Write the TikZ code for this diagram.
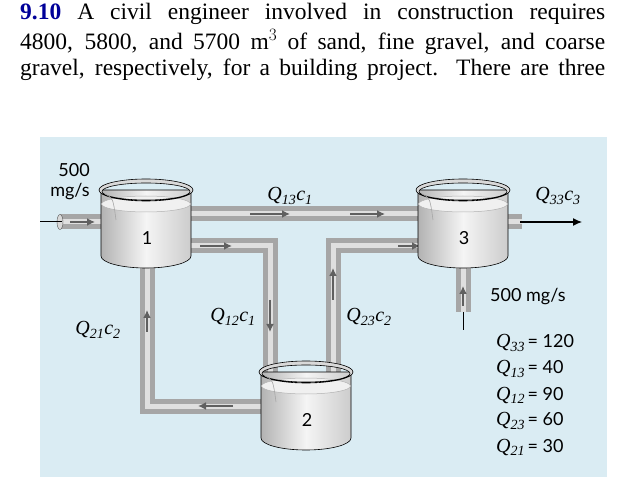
\documentclass[tikz,border=0pt]{standalone}
\usepackage{fontspec}
\setmainfont{Liberation Serif}
\newfontfamily\labfont{Lato}
\usetikzlibrary{arrows.meta}
\definecolor{panel}{RGB}{218,236,243}
\begin{document}
\begin{tikzpicture}[x=1pt,y=-1pt,
  pipe/.style={line width=15pt,draw=gray!70,line join=miter},
  pipein/.style={line width=5pt,draw=gray!25,line join=miter},
  flow/.style={draw=gray!75!black,line width=1.8pt,-{Latex[length=8pt,width=8pt]}},
  lab/.style={font=\labfont\fontsize{18}{20}\selectfont,inner sep=0pt},
  q/.style={font=\fontsize{20}{22}\selectfont\itshape,inner sep=0pt}]
\useasboundingbox (0,0) rectangle (632,494);
% header
\node[anchor=west,inner sep=0pt,font=\fontsize{23.5}{25}\selectfont] (h1) at (20,14) {\makebox[585pt][s]{\textcolor{blue!60!black}{\textbf{9.10}} A civil engineer involved in construction requires}};
\node[anchor=west,inner sep=0pt,font=\fontsize{23.5}{25}\selectfont] (h2) at (20,42) {\makebox[585pt][s]{4800, 5800, and 5700 m$^3$ of sand, fine gravel, and coarse}};
\node[anchor=west,inner sep=0pt,font=\fontsize{23.5}{25}\selectfont] (h3) at (20,70) {\makebox[585pt][s]{gravel, respectively, for a building project. There are three}};
% panel
\fill[panel] (40,137) rectangle (607,477);
% pipes
\foreach \s in {pipe,pipein}{
 \draw[\s] (60,222) -- (110,222);
 \draw[\s] (180,214) -- (430,214);
 \draw[\s] (500,222) -- (522,222);
 \draw[\s] (180,246) -- (270,246) -- (270,390);
 \draw[\s] (333,390) -- (333,246) -- (430,246);
 \draw[\s] (147,250) -- (147,406) -- (270,406);
 \draw[\s] (463,250) -- (463,312);
}
\draw[gray!60!black,fill=gray!30] (60,222) ellipse (3 and 7.5);
\draw[line width=1pt] (40,222) -- (62,222);
\draw[line width=1pt] (463,312) -- (463,330);
\draw[line width=1.2pt,-{Latex[length=9pt,width=8pt]}] (520,222) -- (582,222);
% flow arrows
\draw[flow] (70,222) -- (95,222);
\draw[flow] (250,214) -- (290,214);
\draw[flow] (200,246) -- (232,246);
\draw[flow] (270,300) -- (270,332);
\draw[flow] (333,300) -- (333,268);
\draw[flow] (233,406) -- (198,406);
\draw[flow] (147,332) -- (147,310);
\draw[flow] (463,306) -- (463,286);
\draw[flow] (350,214) -- (385,214);
\draw[flow] (398,246) -- (420,246);
% beakers
\foreach \cx/\ty/\n in {146/190/1,463/190/3,306/372/2}{
 \shade[left color=gray!60,right color=gray!40,middle color=gray!8,draw=black,line width=0.6pt]
   (\cx-45,\ty) -- (\cx-45,\ty+66) arc[start angle=180,end angle=0,x radius=45,y radius=12] -- (\cx+45,\ty) -- cycle;
 \fill[gray!12] (\cx,\ty+14) ellipse (44.5 and 8);
 \draw[gray!60,line width=0.5pt] (\cx,\ty+14) ellipse (44.5 and 8);
 \draw[black,line width=0.6pt,fill=gray!30,even odd rule] (\cx,\ty) ellipse (47 and 11) (\cx,\ty+1.5) ellipse (44 and 8.5);
 \draw[gray!70,line width=0.6pt] (\cx-41,\ty+4) .. controls (\cx-33,\ty+8) .. (\cx-30,\ty+30);
 \node[lab] (b\n) at (\cx+1,\ty+48) {\n};
}
% labels
\node[lab,align=right] (in1) at (70,182) {500\\mg/s};
\node[q] (q13) at (290,196) {Q\textsubscript{13}c\textsubscript{1}};
\node[q] (q33) at (558,196) {Q\textsubscript{33}c\textsubscript{3}};
\node[lab,anchor=west] (in3) at (490,297) {500 mg/s};
\node[q] (q12) at (233,317) {Q\textsubscript{12}c\textsubscript{1}};
\node[q] (q23) at (369,317) {Q\textsubscript{23}c\textsubscript{2}};
\node[q] (q21) at (98,330) {Q\textsubscript{21}c\textsubscript{2}};
\foreach \a/\v/\i in {33/120/0,13/40/1,12/90/2,23/60/3,21/30/4}{
 \node[anchor=west,inner sep=0pt] (v\a) at (496,343+\i*26) {{\fontsize{20}{22}\selectfont\itshape Q\textsubscript{\a}} {\labfont\fontsize{18}{20}\selectfont = \v}};
}
\end{tikzpicture}
\end{document}
